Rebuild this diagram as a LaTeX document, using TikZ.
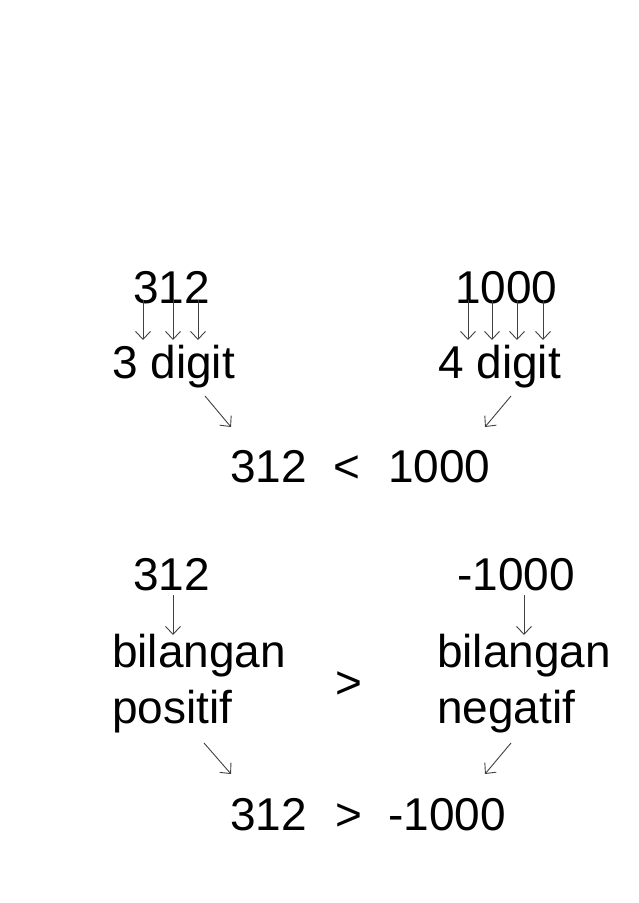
\documentclass[tikz,border=0pt]{standalone}
\usepackage{fontspec}
\setmainfont{Liberation Sans}
\usetikzlibrary{arrows.meta}
\tikzset{
  txt/.style={anchor=base west, inner sep=0pt, font=\fontsize{46}{55}\selectfont},
  arr/.style={draw=black!75, line width=0.9pt, -{Straight Barb[length=8pt,width=15pt]}}
}
\begin{document}
\begin{tikzpicture}[x=1pt,y=-1pt]
      \useasboundingbox (0,0) rectangle (638,903);
      %digits
      \node[txt] (a312) at (133,303) {312};
      \node[txt] (a1000) at (455,303) {1000};
      \node[txt] (a3dig) at (112,378) {3 digit};
      \node[txt] (a4dig) at (438,378) {4 digit};
      \node[txt] (c312) at (230,482) {312};
      \node[txt] (clt) at (333,482) {<};
      \node[txt] (c1000) at (388,482) {1000};
      \draw[arr] (143,300) -- (143,340);
      \draw[arr] (173,300) -- (173,340);
      \draw[arr] (198,300) -- (198,340);
      \draw[arr] (468,300) -- (468,340);
      \draw[arr] (492,300) -- (492,340);
      \draw[arr] (517,300) -- (517,340);
      \draw[arr] (543,300) -- (543,340);
      \draw[arr] (205,396) -- (231,427);
      \draw[arr] (511,396) -- (485,427);
      %sign
      \node[txt] (b312) at (133,590) {312};
      \node[txt] (b1000) at (457,590) {-1000};
      \node[txt] (bpos) at (112,667) {bilangan};
      \node[txt] (bpos2) at (112,723) {positif};
      \node[txt] (bneg) at (437,667) {bilangan};
      \node[txt] (bneg2) at (437,723) {negatif};
      \node[txt] (bgt) at (335,698) {>};
      \node[txt] (d312) at (230,830) {312};
      \node[txt] (dgt) at (335,830) {>};
      \node[txt] (d1000) at (388,830) {-1000};
      \draw[arr] (173,595) -- (173,635);
      \draw[arr] (524,595) -- (524,635);
      \draw[arr] (204,743) -- (231,774);
      \draw[arr] (511,743) -- (485,774);
\end{tikzpicture}
\end{document}
